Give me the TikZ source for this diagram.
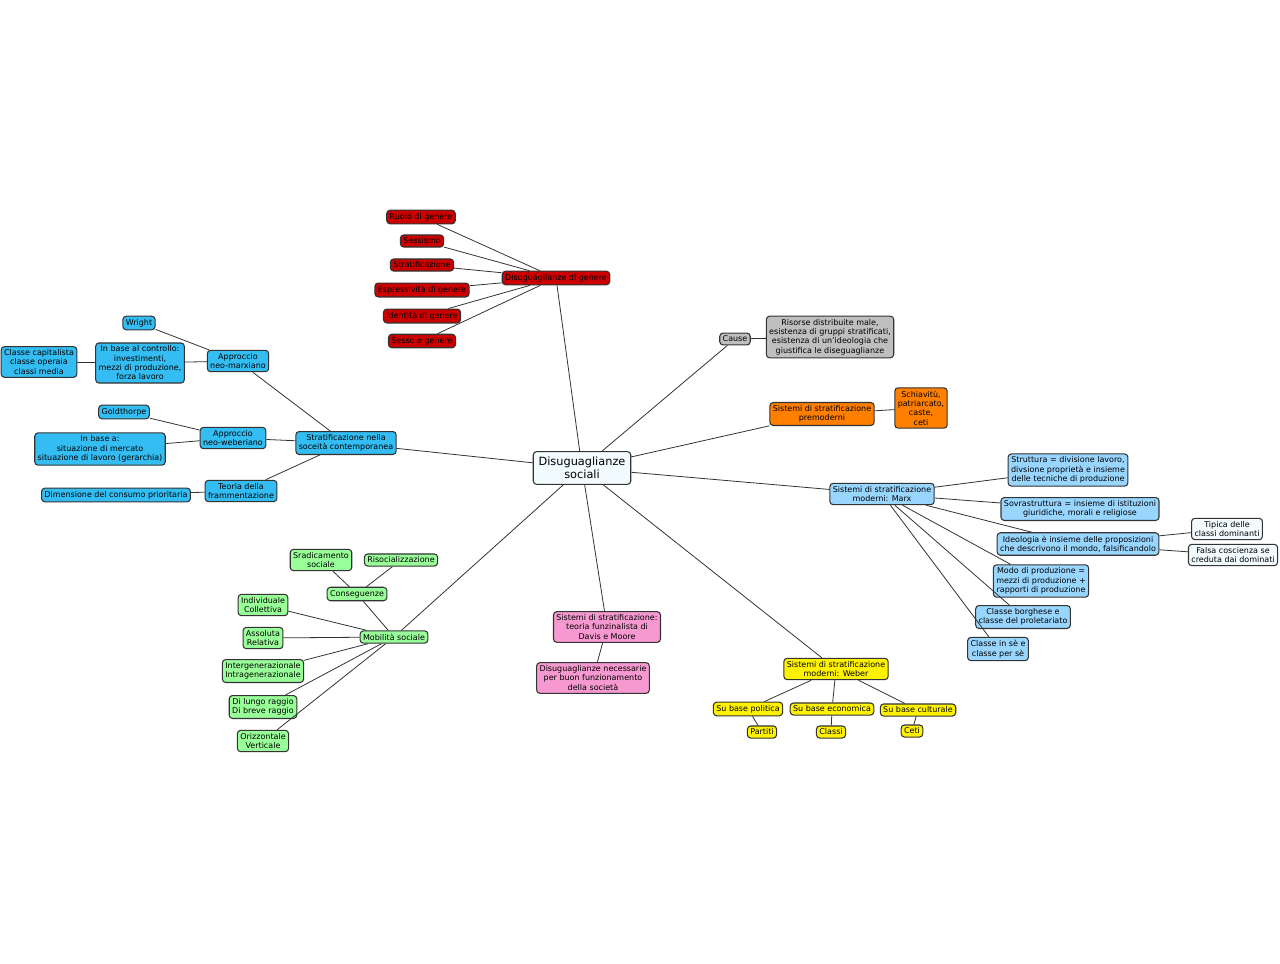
\documentclass[tikz,border=0pt]{standalone}
\usepackage{fontspec}
\setmainfont{DejaVu Sans}
\usetikzlibrary{positioning}

\begin{document}
\begin{tikzpicture}[
  x=0.75pt, y=-0.75pt,
  every node/.style={font=\fontsize{6}{7}\selectfont},
  topic/.style={draw=black!80, rounded corners=2.5pt, align=center, inner sep=2.2pt, thick},
  red node/.style={topic, fill=red!80!black},
  cyan node/.style={topic, fill=cyan!80},
  blue node/.style={topic, fill=blue!40!cyan!40},
  yellow node/.style={topic, fill=yellow},
  green node/.style={topic, fill=green!40},
  pink node/.style={topic, fill=magenta!40},
  orange node/.style={topic, fill=orange},
  grey node/.style={topic, fill=black!25},
  pale node/.style={topic, fill=cyan!5},
  link/.style={draw=black!80, semithick}
]
\useasboundingbox (0,0) rectangle (1280,963);
\node[pale node, font=\fontsize{8.5}{10}\selectfont, inner sep=4pt] (root) at (582,468) {Disuguaglianze\\sociali};

% genere
\node[red node] (gen) at (556,278) {Disuguaglianze di genere};
\node[red node] (ruolo) at (421,217) {Ruolo di genere};
\node[red node] (sess) at (422,241) {Sessismo};
\node[red node] (strat) at (422,265) {Stratificazione};
\node[red node] (espr) at (422,290) {Espressività di genere};
\node[red node] (ident) at (422,316) {Identità di genere};
\node[red node] (sesso) at (422,341) {Sesso e genere};

% cause
\node[grey node] (cause) at (735,339) {Cause};
\node[grey node] (risorse) at (830,337) {Risorse distribuite male,\\esistenza di gruppi stratificati,\\esistenza di un'ideologia che\\giustifica le diseguaglianze};

% premoderni
\node[orange node] (premod) at (822,414) {Sistemi di stratificazione\\premoderni};
\node[orange node] (schiav) at (921,408) {Schiavitù,\\patriarcato,\\caste,\\ceti};

% Marx
\node[blue node] (marx) at (882,494) {Sistemi di stratificazione\\moderni: Marx};
\node[blue node] (strutt) at (1068,470) {Struttura = divisione lavoro,\\divsione proprietà e insieme\\delle tecniche di produzione};
\node[blue node] (sovr) at (1080,509) {Sovrastruttura = insieme di istituzioni\\giuridiche, morali e religiose};
\node[blue node] (ideol) at (1078,544) {Ideologia è insieme delle proposizioni\\che descrivono il mondo, falsificandolo};
\node[pale node] (tipica) at (1227,529) {Tipica delle\\classi dominanti};
\node[pale node] (falsa) at (1233,555) {Falsa coscienza se\\creduta dai dominati};
\node[blue node] (modo) at (1041,581) {Modo di produzione =\\mezzi di produzione +\\rapporti di produzione};
\node[blue node] (borgh) at (1023,617) {Classe borghese e\\classe del proletariato};
\node[blue node] (insè) at (998,649) {Classe in sè e\\classe per sè};

% Weber
\node[yellow node] (weber) at (836,669) {Sistemi di stratificazione\\moderni: Weber};
\node[yellow node] (polit) at (748,709) {Su base politica};
\node[yellow node] (econ) at (832,709) {Su base economica};
\node[yellow node] (cult) at (918,710) {Su base culturale};
\node[yellow node] (partiti) at (762,732) {Partiti};
\node[yellow node] (classi) at (831,732) {Classi};
\node[yellow node] (ceti) at (912,731) {Ceti};

% Davis e Moore
\node[pink node] (davis) at (607,627) {Sistemi di stratificazione:\\teoria funzinalista di\\Davis e Moore};
\node[pink node] (necess) at (593,678) {Disuguaglianze necessarie\\per buon funzionamento\\della società};

% mobilita
\node[green node] (mob) at (394,637) {Mobilità sociale};
\node[green node] (consg) at (357,594) {Conseguenze};
\node[green node] (sradic) at (321,560) {Sradicamento\\sociale};
\node[green node] (risoc) at (401,560) {Risocializzazione};
\node[green node] (indiv) at (263,605) {Individuale\\Collettiva};
\node[green node] (assol) at (263,638) {Assoluta\\Relativa};
\node[green node] (inter) at (263,671) {Intergenerazionale\\Intragenerazionale};
\node[green node] (lungo) at (263,707) {Di lungo raggio\\Di breve raggio};
\node[green node] (orizz) at (263,741) {Orizzontale\\Verticale};

% contemporanea
\node[cyan node] (contemp) at (346,443) {Stratificazione nella\\soceità contemporanea};
\node[cyan node] (neomarx) at (238,361) {Approccio\\neo-marxiano};
\node[cyan node] (wright) at (139,323) {Wright};
\node[cyan node] (controllo) at (140,363) {In base al controllo:\\investimenti,\\mezzi di produzione,\\forza lavoro};
\node[cyan node] (capit) at (39,362) {Classe capitalista\\classe operaia\\classi media};
\node[cyan node] (neoweb) at (233,438) {Approccio\\neo-weberiano};
\node[cyan node] (goldth) at (124,412) {Goldthorpe};
\node[cyan node] (inbase) at (100,449) {In base a:\\situazione di mercato\\situazione di lavoro (gerarchia)};
\node[cyan node] (framm) at (241,491) {Teoria della\\frammentazione};
\node[cyan node] (consumo) at (116,495) {Dimensione del consumo prioritaria};

\foreach \a/\b in {root/gen, gen/ruolo, gen/sess, gen/strat, gen/espr, gen/ident, gen/sesso,
  root/cause, cause/risorse, root/premod, premod/schiav,
  root/marx, marx/strutt, marx/sovr, marx/ideol, ideol/tipica, ideol/falsa, marx/modo, marx/borgh, marx/insè,
  root/weber, weber/polit, weber/econ, weber/cult, polit/partiti, econ/classi, cult/ceti,
  root/davis, davis/necess,
  root/mob, mob/consg, consg/sradic, consg/risoc, mob/indiv, mob/assol, mob/inter, mob/lungo, mob/orizz,
  root/contemp, contemp/neomarx, neomarx/wright, neomarx/controllo, controllo/capit,
  contemp/neoweb, neoweb/goldth, neoweb/inbase, contemp/framm, framm/consumo}
  \draw[link] (\a) -- (\b);
\end{tikzpicture}
\end{document}
